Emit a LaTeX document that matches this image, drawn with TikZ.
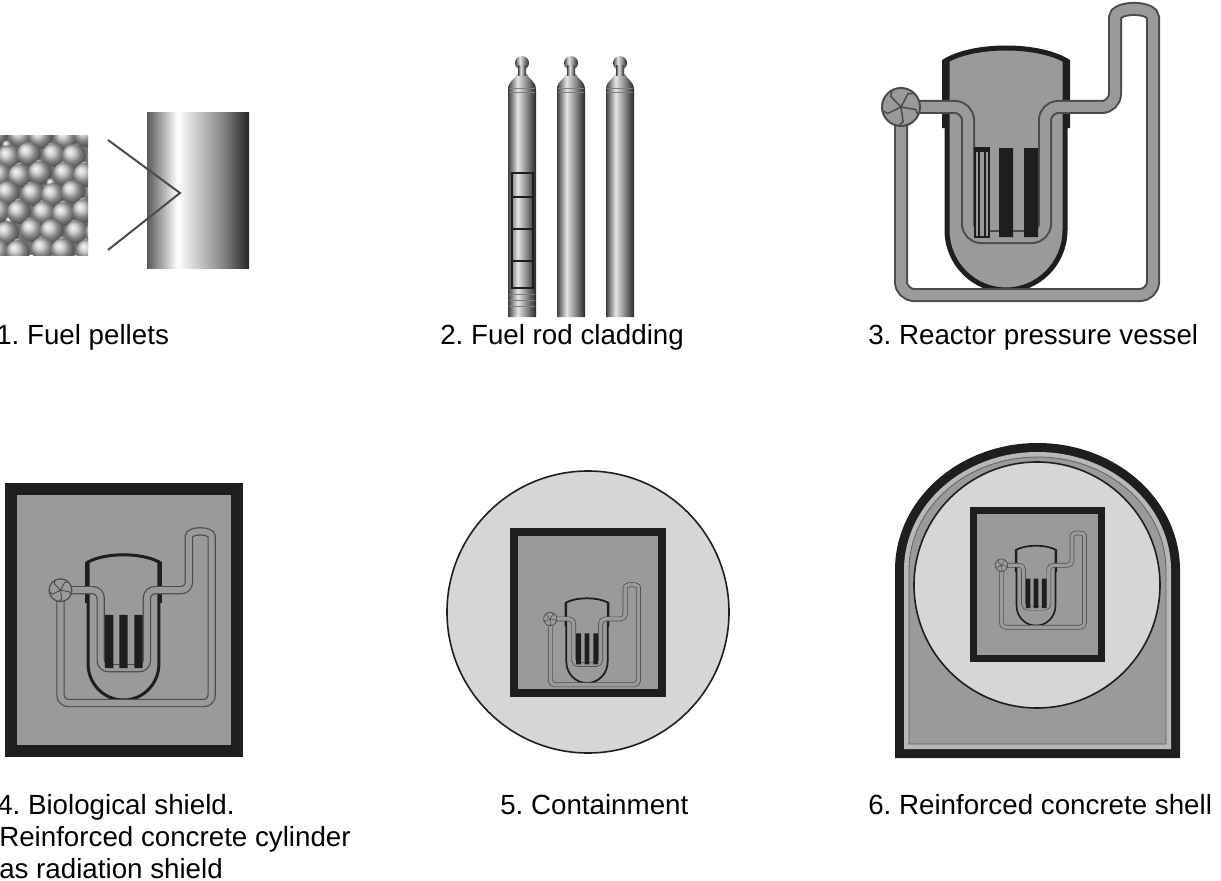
\documentclass[tikz,border=0pt]{standalone}
\usepackage{fontspec}
\setmainfont{Liberation Sans}
\definecolor{mgray}{HTML}{9A9A9A}
\definecolor{dk}{HTML}{1E1E1E}
\definecolor{lgray}{HTML}{D6D6D6}
\definecolor{bgray}{HTML}{B8B8B8}
\pgfdeclarehorizontalshading{cyl}{100bp}{color(0bp)=(black!65);color(25bp)=(black!65);color(40bp)=(white);color(61bp)=(black!45);color(75bp)=(black!85);color(100bp)=(black!85)}
\pgfdeclarehorizontalshading{rod}{100bp}{color(0bp)=(black!75);color(25bp)=(black!75);color(42bp)=(white!90!black);color(62bp)=(black!55);color(75bp)=(black!85);color(100bp)=(black!85)}
\tikzset{lbl/.style={anchor=base west,font=\fontsize{20.8}{26}\selectfont,inner sep=0pt}}
\newcommand\reactor[3]{%
\begin{scope}[shift={(#1,#2)},scale=#3]
 % vessel
 \fill[dk] (-64,-42) -- (-64,-110) .. controls (-30,-128) and (30,-128) .. (64,-110) -- (64,-42) -- cycle;
 \draw[dk,fill=mgray,line width={5*#3*0.75pt}] (-59,-42) -- (-59,-110) .. controls (-30,-126) and (30,-126) .. (59,-110) -- (59,60) arc[start angle=0,end angle=180,x radius=59,y radius=60] -- cycle;
 \fill[mgray] (-55,-104) .. controls (-30,-118) and (30,-118) .. (55,-104) -- (55,-42) -- (-55,-42) -- cycle;
 % pipe
 \foreach \pc/\pw in {dk!80/14,mgray/10}
 \draw[\pc,line width={\pw*#3*0.75pt},rounded corners={10*#3}] (-105,-63) -- (-38,-63) -- (-38,67) -- (39,67) -- (39,-63) -- (109,-63) -- (109,-139) .. controls (109,-164) and (147,-164) .. (147,-139) -- (147,125) -- (-105,125) -- (-105,-63);
 % rods
 \fill[dk] (-31,-22) rectangle (-17,67) (-7,-22) rectangle (7,67) (18,-22) rectangle (32,67);
 % pump
 \draw[dk!80,fill=mgray,line width={2*#3*0.75pt}] (-105,-63) circle (19);
 \foreach \a in {10,82,154,226,298}
   \draw[dk!80,line width={1.5*#3*0.75pt}] (-105,-63) -- ++(\a:15) -- ++(\a+60:5);
\end{scope}}
\begin{document}
\begin{tikzpicture}[x=0.75pt,y=-0.75pt]
\useasboundingbox (0,0) rectangle (1221,881);
% ---------- panel 1
\begin{scope}
 \clip (0,135) rectangle (88,255);
 \fill[black!55] (0,135) rectangle (88,255);
 \foreach \r in {0,...,6}{
  \foreach \c in {0,...,4}{
   \pgfmathsetmacro\xx{\c*22+mod(\r,2)*11-4+mod(\r*7+\c*3,5)}
   \pgfmathsetmacro\yy{135+\r*19+mod(\r*3+\c*5,4)}
   \shade[ball color=white!75!black] (\xx,\yy) circle (12);
   \shade[ball color=white!75!black] (\xx+11,\yy+10) circle (5);
  }}
\end{scope}
\shade[shading=cyl] (147,113) rectangle (249,268);
\draw[black!70,line width=1.5pt] (108,140) -- (180,193) -- (108,250);
\node[lbl] (t1) at (-4,344) {1.\ Fuel pellets};
% ---------- panel 2
\foreach \x in {522,571,620}{
 \shade[shading=rod] (\x-14,317) -- (\x-14,90) .. controls (\x-14,80) and (\x-6,79) .. (\x-5,74) -- (\x+5,74) .. controls (\x+6,79) and (\x+14,80) .. (\x+14,90) -- (\x+14,317) -- cycle;
 \shade[shading=rod] (\x,63) circle (7);
 \shade[shading=rod] (\x-4,66) rectangle (\x+4,76);
 \draw[black!50,line width=0.6pt] (\x-13,88) -- (\x+13,88) (\x-13,92) -- (\x+13,92);
}
\draw[dk,line width=1.5pt] (512,173) rectangle (533,288);
\draw[dk,line width=1.5pt] (512,197) -- (533,197) (512,229) -- (533,229) (512,261) -- (533,261);
\draw[black!50,line width=0.6pt] (509,294) -- (535,294) (509,300) -- (535,300) (509,306) -- (535,306);
\node[lbl] (t2) at (440,344) {2.\ Fuel rod cladding};
% ---------- panel 3
\reactor{1006}{170}{1}
\fill[mgray] (975,148) rectangle (989,237);
\draw[dk,line width=1pt] (975,148) rectangle (989,237) (979,152) -- (979,237) (985,152) -- (985,237);
\fill[dk] (975,147) rectangle (989,152);
\node[lbl] (t3) at (868,344) {3.\ Reactor pressure vessel};
% ---------- panel 4
\fill[dk] (5,483) rectangle (243,757);
\fill[mgray] (17,495) rectangle (231,745);
\reactor{123.5}{628}{0.6}
\node[lbl] (t4) at (-3,814) {4.\ Biological shield.};
\node[lbl] (t4b) at (-1,846) {Reinforced concrete cylinder};
\node[lbl] (t4c) at (-1,878) {as radiation shield};
% ---------- panel 5
\draw[dk,fill=lgray,line width=1.2pt] (588,612) circle (141);
\fill[dk] (510,528) rectangle (666,697);
\fill[mgray] (518,536) rectangle (658,689);
\reactor{587}{641}{0.35}
\node[lbl] (t5) at (500,814) {5.\ Containment};
% ---------- panel 6
\fill[dk] (895,758) -- (895,570) arc[start angle=180,end angle=360,x radius=142.5,y radius=127] -- (1180,758) -- cycle;
\fill[bgray] (904,749) -- (904,570) arc[start angle=180,end angle=360,x radius=133.5,y radius=118] -- (1171,749) -- cycle;
\draw[dk!70,fill=mgray,line width=0.6pt] (909,744) -- (909,570) arc[start angle=180,end angle=360,x radius=128.5,y radius=113] -- (1166,744) -- cycle;
\draw[dk,fill=lgray,line width=1.2pt] (1037,585) circle (123);
\fill[dk] (970,507) rectangle (1105,662);
\fill[mgray] (977,514) rectangle (1098,655);
\reactor{1036}{586}{0.33}
\node[lbl] (t6) at (868,814) {6.\ Reinforced concrete shell};
\end{tikzpicture}
\end{document}
